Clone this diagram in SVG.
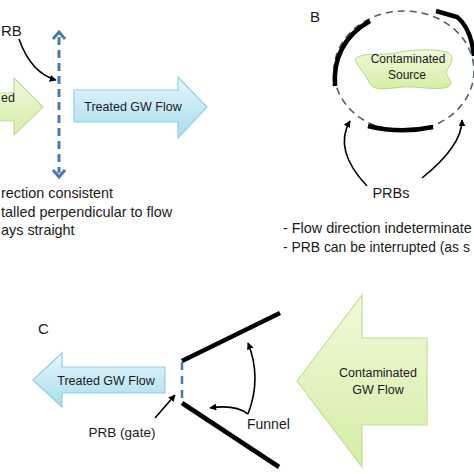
<svg xmlns="http://www.w3.org/2000/svg" width="474" height="474" viewBox="0 0 474 474">
<style>
text{font-family:"Liberation Sans",Arial,sans-serif;fill:#1a1a1a}
.lbl{font-size:12.5px;text-anchor:middle}
.note{font-size:14.4px}
.blue{fill:url(#gBlue);stroke:#93cfe4;stroke-width:1.2}
.green{fill:url(#gGreen);stroke:#c3de96;stroke-width:1.2}
.thin{fill:none;stroke:#000;stroke-width:1.6;marker-end:url(#ah)}
.wall{fill:none;stroke:#000;stroke-width:4.5;stroke-linecap:butt}
.prbA{fill:none;stroke:#4a7aab;stroke-width:3}
</style>
<defs>
<linearGradient id="gBlue" x1="0" y1="0" x2="0" y2="1">
<stop offset="0" stop-color="#e6f6fc"/><stop offset="1" stop-color="#a8dcef"/>
</linearGradient>
<linearGradient id="gGreen" x1="0" y1="0" x2="0" y2="1">
<stop offset="0" stop-color="#f0f9da"/><stop offset="1" stop-color="#d4eea6"/>
</linearGradient>
<marker id="ah" viewBox="0 0 10 10" refX="9" refY="5" markerWidth="7" markerHeight="7" markerUnits="userSpaceOnUse" orient="auto">
<path d="M0,0 L10,5 L0,10 Z" fill="#000"/>
</marker>
</defs>
<rect width="474" height="474" fill="#fff"/>

<!-- Panel A -->
<g id="a-contaminated-arrow">
<path class="green" d="M-50,93 L14,93 L14,78 L43,107 L14,135 L14,121 L-50,121 Z"/>
<text class="lbl" x="1" y="102" style="text-anchor:start">ed</text>
</g>
<g id="a-treated-arrow">
<path class="blue" d="M74,90 L178,90 L178,77 L207,107 L178,138 L178,122 L74,122 Z"/>
<text class="lbl" x="133" y="111">Treated GW Flow</text>
</g>
<g id="a-prb-label">
<text x="1" y="36" style="font-size:15px">RB</text>
</g>
<g id="a-notes">
<text class="note" x="1" y="198">rection consistent</text>
<text class="note" x="1" y="217">talled perpendicular to flow</text>
<text class="note" x="1" y="235">ays straight</text>
</g>

<!-- Panel B -->
<g id="b-label"><text x="310" y="22" style="font-size:15px">B</text></g>
<g id="b-source">
<path d="M358,57 C368,52 380,56 395,53 C410,50 430,48 447,52 C455,56 452,63 447,70 C444,76 456,82 448,87 C435,91 420,86 403,87 C390,88 375,92 370,84 C366,75 362,72 357,64 C355,60 355,58 358,57 Z" fill="url(#gGreen)" stroke="#b9d48a" stroke-width="1"/>
<text x="408" y="63" style="font-size:12px;text-anchor:middle">Contaminated</text>
<text x="407" y="79" style="font-size:12px;text-anchor:middle">Source</text>
</g>
<g id="b-barrier">
<ellipse cx="404" cy="71" rx="70" ry="60" fill="none" stroke="#4d5b73" stroke-width="1.6" stroke-dasharray="7 5"/>
<path class="wall" d="M335,86 C333,60 343,36 370,21"/>
<path class="wall" d="M436,11 L457,17 Q471,28 474,56"/>
<path class="wall" d="M368,126 Q400,134 433,127"/>
</g>
<g id="b-prbs-label"><text x="391" y="198" style="font-size:14.5px;text-anchor:middle">PRBs</text></g>
<g id="b-notes">
<text class="note" x="283" y="233">- Flow direction indeterminate</text>
<text class="note" x="283" y="252" style="font-size:13.9px">- PRB can be interrupted (as s</text>
</g>

<!-- Panel C -->
<g id="c-label"><text x="38" y="334" style="font-size:15px">C</text></g>
<g id="c-treated-arrow">
<path class="blue" d="M33,380 L62,353 L62,367 L165,367 L165,393 L62,393 L62,407 Z"/>
<text class="lbl" x="106" y="385">Treated GW Flow</text>
</g>
<g id="c-contaminated-arrow">
<path class="green" d="M297,381 L362,295 L362,338 L427,338 L427,425 L362,425 L362,467 Z"/>
<text class="lbl" x="378" y="377">Contaminated</text>
<text class="lbl" x="378" y="394">GW Flow</text>
</g>
<g id="c-funnel">
<path class="wall" d="M182,361 L280,313"/>
<path class="wall" d="M182,403 L279,467"/>
</g>
<g id="c-gate">
<line x1="182" y1="362" x2="182" y2="403" stroke="#4a7aab" stroke-width="2.5" stroke-dasharray="8 6"/>
</g>
<g id="c-gate-label"><text x="122" y="437" style="font-size:13.5px;text-anchor:middle">PRB (gate)</text></g>
<g id="c-funnel-label"><text x="247" y="429" style="font-size:14px">Funnel</text></g>

<!-- Connectors -->
<g id="connectors">
<path class="thin" d="M19,39 Q31,73 56,80"/>
<line class="prbA" x1="59" y1="37" x2="59" y2="173" stroke-dasharray="8 5"/>
<path class="prbA" d="M53,39 L59,32 L65,39" stroke-width="2.5"/>
<path class="prbA" d="M53,170 L59,177 L65,170" stroke-width="2.5"/>
<path class="thin" d="M367,186 Q333,150 350,121"/>
<path class="thin" d="M422,178 Q462,146 462,120"/>
<path class="thin" d="M155,418 L175,395"/>
<path class="thin" d="M248,414 Q235,404 210,408"/>
<path class="thin" d="M248,414 Q262,378 248,343"/>
</g>
</svg>
